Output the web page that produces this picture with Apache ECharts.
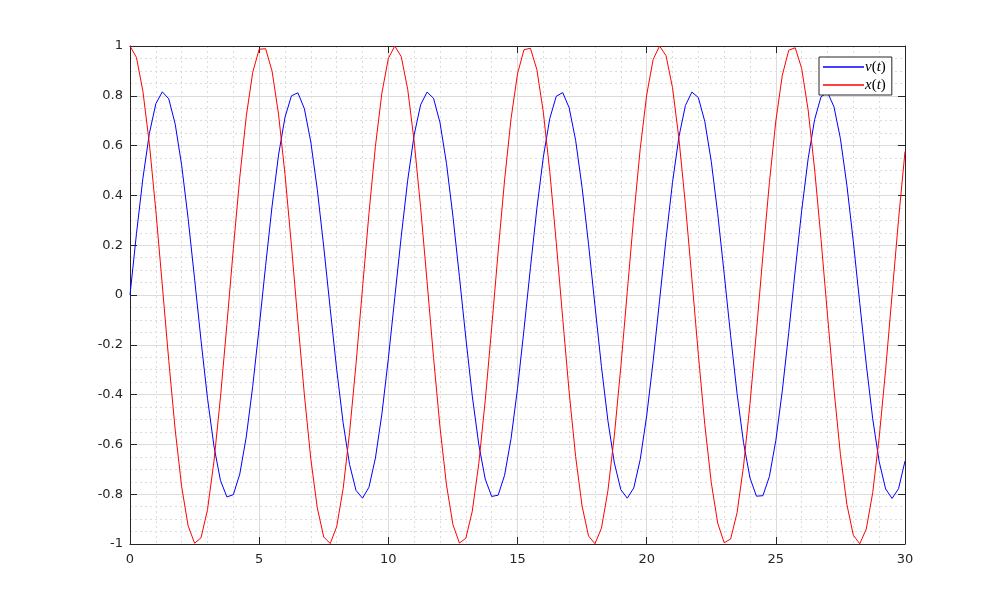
<!DOCTYPE html>
<html>
<head>
<meta charset="utf-8">
<script src="https://cdn.jsdelivr.net/npm/echarts@6/dist/echarts.min.js"></script>
<style>html,body{margin:0;padding:0;background:#fff;}#c{width:1000px;height:612px;}</style>
</head>
<body>
<div id="c"></div>
<script>
var tValues = [0,0.25,0.5,0.75,1,1.25,1.5,1.75,2,2.25,2.5,2.75,3,3.25,3.5,3.75,4,4.25,4.5,4.75,5,5.25,5.5,5.75,6,6.25,6.5,6.75,7,7.25,7.5,7.75,8,8.25,8.5,8.75,9,9.25,9.5,9.75,10,10.25,10.5,10.75,11,11.25,11.5,11.75,12,12.25,12.5,12.75,13,13.25,13.5,13.75,14,14.25,14.5,14.75,15,15.25,15.5,15.75,16,16.25,16.5,16.75,17,17.25,17.5,17.75,18,18.25,18.5,18.75,19,19.25,19.5,19.75,20,20.25,20.5,20.75,21,21.25,21.5,21.75,22,22.25,22.5,22.75,23,23.25,23.5,23.75,24,24.25,24.5,24.75,25,25.25,25.5,25.75,26,26.25,26.5,26.75,27,27.25,27.5,27.75,28,28.25,28.5,28.75,29,29.25,29.5,29.75,30];
var vValues = [0,0.246,0.469,0.649,0.768,0.816,0.788,0.686,0.521,0.307,0.065,-0.183,-0.415,-0.607,-0.744,-0.811,-0.802,-0.719,-0.570,-0.367,-0.130,0.119,0.357,0.562,0.714,0.800,0.812,0.748,0.614,0.424,0.193,-0.055,-0.298,-0.513,-0.681,-0.785,-0.816,-0.772,-0.655,-0.478,-0.256,-0.010,0.236,0.461,0.643,0.764,0.815,0.790,0.692,0.529,0.317,0.075,-0.173,-0.406,-0.600,-0.739,-0.809,-0.804,-0.724,-0.577,-0.376,-0.140,0.109,0.348,0.554,0.709,0.798,0.813,0.752,0.621,0.432,0.204,-0.044,-0.288,-0.505,-0.675,-0.782,-0.816,-0.775,-0.661,-0.486,-0.266,-0.021,0.226,0.452,0.636,0.761,0.815,0.793,0.697,0.537,0.327,0.086,-0.163,-0.397,-0.593,-0.735,-0.808,-0.806,-0.729,-0.584,-0.385,-0.150,0.099,0.338,0.547,0.704,0.796,0.814,0.756,0.628,0.441,0.214,-0.034,-0.278,-0.497,-0.669,-0.779,-0.817,-0.778,-0.667];
var xValues = [1.000,0.954,0.818,0.607,0.339,0.040,-0.263,-0.542,-0.770,-0.927,-0.997,-0.975,-0.862,-0.668,-0.413,-0.119,0.186,0.473,0.717,0.894,0.987,0.989,0.899,0.726,0.484,0.198,-0.107,-0.401,-0.659,-0.855,-0.972,-0.998,-0.931,-0.778,-0.552,-0.276,0.027,0.327,0.597,0.811,0.950,1.000,0.957,0.826,0.617,0.351,0.053,-0.251,-0.531,-0.762,-0.922,-0.996,-0.977,-0.868,-0.678,-0.425,-0.132,0.173,0.462,0.708,0.888,0.985,0.991,0.905,0.734,0.495,0.211,-0.094,-0.390,-0.649,-0.848,-0.968,-0.999,-0.936,-0.786,-0.563,-0.288,0.014,0.315,0.587,0.803,0.946,1.000,0.961,0.833,0.627,0.363,0.065,-0.239,-0.520,-0.753,-0.916,-0.995,-0.980,-0.874,-0.687,-0.436,-0.145,0.160,0.451,0.699,0.882,0.983,0.993,0.910,0.743,0.506,0.223,-0.081,-0.378,-0.640,-0.841,-0.965,-0.999,-0.940,-0.794,-0.573,-0.300,0.002,0.303,0.576];
var seriesNames = ['v(t)', 'x(t)'];

function pairs(ys){ return tValues.map(function(t,i){ return [t, ys[i]]; }); }

var axisColor = '#262626';
var chart = echarts.init(document.getElementById('c'), null, {renderer:'canvas'});
var commonX = {
  type:'value', min:0, max:30, interval:5,
  axisLine:{show:true, onZero:false, lineStyle:{color:axisColor, width:1}},
  axisTick:{show:true, inside:true, length:7, lineStyle:{color:axisColor}},
  minorTick:{show:false, splitNumber:5}
};
var commonY = {
  type:'value', min:-1, max:1, interval:0.2,
  axisLine:{show:true, onZero:false, lineStyle:{color:axisColor, width:1}},
  axisTick:{show:true, inside:true, length:7, lineStyle:{color:axisColor}},
  minorTick:{show:false, splitNumber:4}
};
chart.setOption({
  animation:false,
  backgroundColor:'#ffffff',
  grid:{left:130, right:95, top:46, bottom:68, containLabel:false},
  xAxis:[
    Object.assign({}, commonX, {
      position:'bottom',
      axisLabel:{show:true, color:axisColor, fontSize:13, fontFamily:'DejaVu Sans', margin:9},
      splitLine:{show:true, lineStyle:{color:'#dcdcdc', width:1}},
      minorSplitLine:{show:true, lineStyle:{color:'#dcdcdc', width:1, type:[2,3]}}
    }),
    Object.assign({}, commonX, {
      position:'top',
      axisLabel:{show:false},
      splitLine:{show:false}
    })
  ],
  yAxis:[
    Object.assign({}, commonY, {
      position:'left',
      axisLabel:{show:true, color:axisColor, fontSize:13, fontFamily:'DejaVu Sans', margin:7,
        formatter:function(v){ return String(Math.round(v*10)/10); }},
      splitLine:{show:true, lineStyle:{color:'#dcdcdc', width:1}},
      minorSplitLine:{show:true, lineStyle:{color:'#dcdcdc', width:1, type:[2,3]}}
    }),
    Object.assign({}, commonY, {
      position:'right',
      axisLabel:{show:false},
      splitLine:{show:false}
    })
  ],
  legend:{
    show:true, orient:'vertical', left:819, top:57,
    backgroundColor:'#ffffff', borderColor:axisColor, borderWidth:1,
    padding:[3,6,2,4], itemGap:3, itemWidth:41, itemHeight:1.3,
    icon:'rect',
    data:seriesNames,
    formatter:function(name){
      return '{i|' + name.charAt(0) + '}{n|(}{i|t}{n|)}';
    },
    textStyle:{
      padding:[0,0,0,-4], height:14,
      rich:{
        i:{fontFamily:'Liberation Serif', fontStyle:'italic', fontSize:15, color:'#000'},
        n:{fontFamily:'Liberation Serif', fontSize:15, color:'#000'}
      }
    }
  },
  series:[
    {name:seriesNames[0], type:'line', data:pairs(vValues), symbol:'none', showSymbol:false,
     lineStyle:{color:'#0000ff', width:1}, itemStyle:{color:'#0000ff'}, z:3},
    {name:seriesNames[1], type:'line', data:pairs(xValues), symbol:'none', showSymbol:false,
     lineStyle:{color:'#ff0000', width:1}, itemStyle:{color:'#ff0000'}, z:4}
  ]
});
</script>
</body>
</html>
